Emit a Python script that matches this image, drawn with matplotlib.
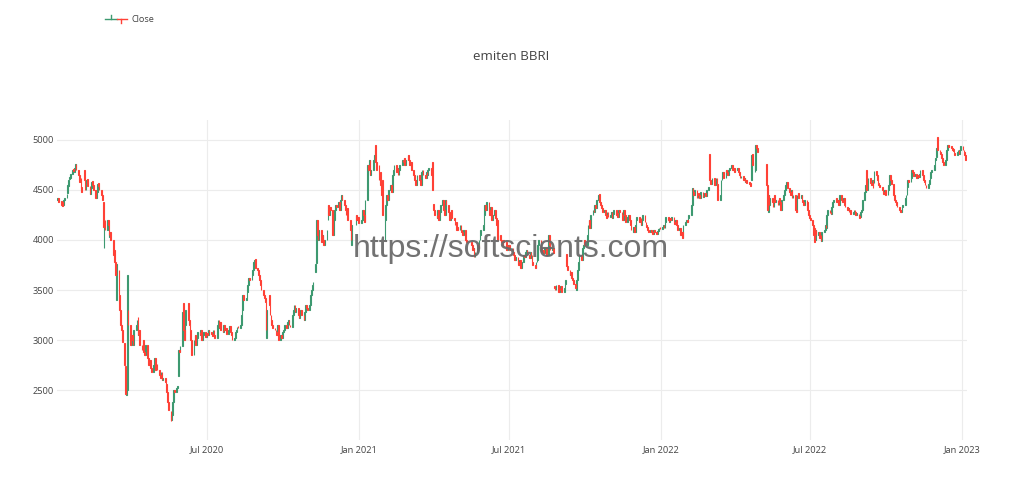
import numpy as np
import pandas as pd
import matplotlib
matplotlib.use("Agg")
import matplotlib.pyplot as plt
import matplotlib.dates as mdates
from matplotlib.lines import Line2D

# ---------------- data ----------------
chart_title = "emiten BBRI"
series_name = "Close"
watermark = "https://softscients.com"

holidays = ["2020-01-01", "2020-12-24", "2020-12-25", "2021-01-01", "2021-05-12",
            "2021-05-13", "2021-05-14", "2022-04-29", "2022-05-02", "2022-05-03",
            "2022-05-04", "2022-05-05", "2022-05-06"]

close_2020 = [
    [4410, 4380, 4350, 4370, 4340, 4400, 4420, 4460, 4550, 4600, 4620, 4660, 4700, 4690, 4720, 4760, 4700, 4650, 4580, 4620, 4520, 4480],
    [4600, 4500, 4560, 4600, 4540, 4460, 4520, 4580, 4550, 4500, 4420, 4480, 4560, 4540, 4500, 4450, 4400, 4130, 4200, 4100],
    [4200, 4150, 4050, 4080, 4000, 3850, 3900, 3780, 3650, 3760, 3450, 3300, 3150, 3100, 2980, 2750, 2460, 2520, 3650, 3150, 2950, 3050],
    [3000, 2950, 3100, 3150, 3200, 3050, 3100, 2950, 2900, 3000, 2880, 2850, 2950, 2820, 2750, 2800, 2720, 2680, 2750, 2820, 2700, 2760],
    [2700, 2650, 2620, 2680, 2600, 2620, 2580, 2560, 2480, 2380, 2300, 2190, 2250, 2380, 2500, 2480, 2520, 2540, 2900, 2880, 2940],
    [3280, 3100, 3000, 3150, 3300, 3200, 3150, 3100, 3000, 2850, 3000, 3050, 2950, 3020, 3080, 3050, 3100, 3000, 3050, 3080, 3030, 3060],
    [3050, 3100, 3080, 3060, 3040, 3100, 3050, 3020, 3150, 3200, 3120, 3180, 3100, 3080, 3150, 3100, 3120, 3060, 3100, 3140, 3080, 3050, 3000],
    [3020, 3080, 3100, 3130, 3120, 3150, 3250, 3300, 3450, 3400, 3420, 3480, 3550, 3620, 3600, 3650, 3700, 3780, 3800, 3720, 3700],
    [3650, 3600, 3550, 3500, 3450, 3420, 3380, 3100, 3300, 3350, 3250, 3200, 3150, 3120, 3100, 3080, 3050, 3150, 3000, 3050, 3020, 3080],
    [3100, 3150, 3120, 3180, 3200, 3150, 3130, 3250, 3300, 3350, 3280, 3320, 3250, 3220, 3280, 3300, 3250, 3200, 3280, 3350, 3320, 3300],
    [3350, 3450, 3500, 3550, 3580, 3760, 4200, 4050, 4000, 4100, 3980, 4050, 4000, 3950, 4000, 4100, 4350, 4250, 4330, 4300, 4050],
    [4200, 4300, 4350, 4330, 4380, 4300, 4400, 4450, 4400, 4350, 4300, 4250, 4320, 4200, 4100, 4000, 4150, 4250, 4200, 4230, 4170],
]
open_2020 = [
    [4400, 4420, 4390, 4340, 4380, 4350, 4400, 4420, 4470, 4540, 4610, 4620, 4660, 4710, 4680, 4720, 4760, 4700, 4650, 4580, 4620, 4530],
    [4700, 4600, 4500, 4560, 4610, 4540, 4460, 4520, 4590, 4550, 4500, 4420, 4480, 4570, 4540, 4500, 4450, 4380, 3920, 4200],
    [4100, 4200, 4150, 4030, 4080, 4000, 3850, 3900, 3780, 3400, 3700, 3450, 3300, 3150, 3100, 2970, 2740, 2450, 2500, 3300, 3150, 2950],
    [3050, 3000, 2950, 3100, 3150, 3230, 3050, 3100, 2950, 2900, 3000, 2880, 2850, 2950, 2820, 2750, 2800, 2720, 2680, 2750, 2820, 2700],
    [2760, 2700, 2650, 2620, 2680, 2600, 2620, 2580, 2560, 2480, 2380, 2290, 2200, 2250, 2380, 2500, 2480, 2520, 2640, 2900, 2880],
    [2940, 3370, 3100, 3000, 3150, 3370, 3200, 3150, 3100, 3000, 2850, 3000, 3050, 2950, 3020, 3080, 3050, 3100, 3000, 3050, 3080, 3030],
    [3060, 3050, 3100, 3080, 3060, 3040, 3100, 3050, 3020, 3150, 3200, 3120, 3180, 3100, 3080, 3150, 3100, 3120, 3060, 3100, 3140, 3080, 3050],
    [3000, 3020, 3080, 3100, 3130, 3120, 3150, 3250, 3300, 3450, 3400, 3420, 3480, 3550, 3620, 3600, 3650, 3700, 3780, 3810, 3720],
    [3700, 3650, 3600, 3550, 3500, 3450, 3420, 3380, 3020, 3450, 3350, 3250, 3200, 3150, 3120, 3100, 3080, 3050, 3150, 3000, 3050, 3020],
    [3080, 3100, 3150, 3120, 3180, 3200, 3150, 3130, 3250, 3300, 3350, 3280, 3320, 3250, 3220, 3280, 3300, 3250, 3200, 3280, 3350, 3320],
    [3300, 3350, 3450, 3500, 3550, 3680, 3770, 4200, 4050, 4000, 4100, 3980, 4050, 4000, 3950, 4000, 4200, 4350, 4250, 4330, 4300],
    [4050, 4200, 4300, 4350, 4330, 4380, 4300, 4400, 4450, 4400, 4350, 4300, 4250, 4320, 4200, 4100, 3950, 4150, 4250, 4200, 4230],
]

close_2021 = [
    [4200, 4300, 4250, 4180, 4400, 4750, 4700, 4800, 4650, 4700, 4800, 4850, 4900, 4780, 4700, 4600, 4650, 4550, 4450, 4250],
    [4200, 4350, 4450, 4400, 4500, 4550, 4480, 4650, 4700, 4750, 4680, 4720, 4650, 4700, 4750, 4800, 4780, 4820, 4750, 4800],
    [4850, 4800, 4750, 4780, 4700, 4650, 4600, 4550, 4600, 4650, 4600, 4550, 4680, 4700, 4650, 4620, 4680, 4650, 4700, 4720, 4650, 4700, 4500],
    [4300, 4250, 4220, 4300, 4200, 4280, 4350, 4400, 4300, 4250, 4400, 4350, 4280, 4200, 4250, 4300, 4220, 4200, 4150, 4180, 4100, 4100],
    [4150, 4100, 4080, 4050, 4100, 4000, 3980, 3950, 3900, 3920, 3830, 3880, 3950, 3920, 4000, 4050, 4100, 4150],
    [4250, 4350, 4300, 4380, 4300, 4250, 4330, 4200, 4250, 4300, 4220, 4150, 4000, 4050, 4000, 3980, 3950, 4000, 3980, 3900, 3950, 3920],
    [3950, 3900, 3920, 3880, 3850, 3800, 3830, 3780, 3750, 3800, 3720, 3780, 3850, 3830, 3880, 3900, 3850, 3820, 3880, 3850, 3780, 3750],
    [3720, 3780, 3850, 3950, 4000, 3920, 3880, 3900, 3870, 3920, 3850, 3880, 4050, 3950, 3900, 3920, 3870, 3520, 3500, 3550, 3480, 3520],
    [3500, 3540, 3480, 3520, 3560, 3600, 3740, 3700, 3650, 3680, 3620, 3600, 3560, 3520, 3600, 3700, 3780, 3850, 3800, 3920, 3950, 4000],
    [3950, 4050, 4150, 4200, 4120, 4250, 4300, 4280, 4350, 4320, 4400, 4450, 4380, 4350, 4320, 4280, 4300, 4250, 4220, 4280, 4230],
    [4250, 4280, 4220, 4260, 4300, 4250, 4270, 4230, 4300, 4280, 4250, 4200, 4300, 4250, 4180, 4230, 4250, 4200, 4150, 4100, 4130, 4080],
    [4150, 4200, 4230, 4180, 4220, 4150, 4200, 4250, 4180, 4150, 4130, 4100, 4080, 4100, 4080, 4060, 4100, 4080, 4060, 4090, 4100, 4110, 4110],
]
open_2021 = [
    [4170, 4200, 4300, 4250, 4180, 4400, 4750, 4700, 4800, 4650, 4700, 4800, 4850, 4950, 4780, 4750, 4600, 4680, 4550, 4600],
    [4000, 4200, 4350, 4450, 4400, 4500, 4550, 4480, 4650, 4700, 4750, 4680, 4720, 4650, 4700, 4750, 4800, 4780, 4820, 4750],
    [4800, 4850, 4800, 4750, 4780, 4700, 4650, 4600, 4550, 4600, 4650, 4600, 4550, 4680, 4700, 4650, 4620, 4680, 4650, 4700, 4720, 4650, 4780],
    [4360, 4300, 4250, 4220, 4300, 4200, 4280, 4350, 4400, 4300, 4250, 4400, 4350, 4280, 4200, 4250, 4300, 4220, 4200, 4150, 4180, 4130],
    [4100, 4150, 4100, 4080, 4050, 4100, 4000, 3980, 3950, 3900, 3920, 3830, 3880, 3950, 3920, 4000, 4050, 4100],
    [4150, 4250, 4350, 4300, 4380, 4300, 4250, 4330, 4200, 4250, 4300, 4220, 4200, 4000, 4050, 4000, 3980, 3950, 4000, 3980, 3900, 3950],
    [3920, 3950, 3900, 3920, 3880, 3850, 3800, 3830, 3780, 3750, 3800, 3720, 3780, 3850, 3830, 3880, 3900, 3850, 3820, 3880, 3850, 3780],
    [3750, 3720, 3780, 3800, 3950, 4000, 3920, 3880, 3900, 3870, 3920, 3850, 3850, 4050, 3950, 3900, 3920, 3540, 3520, 3500, 3550, 3480],
    [3520, 3500, 3540, 3480, 3520, 3560, 3860, 3740, 3700, 3650, 3680, 3620, 3600, 3560, 3500, 3600, 3700, 3780, 3850, 3800, 3920, 3950],
    [4000, 3950, 4050, 4150, 4200, 4120, 4250, 4300, 4280, 4350, 4320, 4400, 4460, 4380, 4350, 4320, 4280, 4300, 4250, 4220, 4280],
    [4230, 4250, 4280, 4220, 4260, 4300, 4250, 4270, 4230, 4300, 4280, 4250, 4200, 4300, 4250, 4180, 4230, 4250, 4200, 4150, 4080, 4130],
    [4080, 4150, 4200, 4230, 4180, 4220, 4150, 4200, 4250, 4180, 4150, 4130, 4100, 4080, 4100, 4080, 4060, 4100, 4080, 4060, 4090, 4100, 4120],
]

close_2022 = [
    [4130, 4150, 4120, 4180, 4230, 4200, 4180, 4220, 4200, 4230, 4180, 4160, 4200, 4150, 4100, 4120, 4050, 4080, 4020, 4150, 4180],
    [4200, 4180, 4220, 4250, 4350, 4520, 4480, 4450, 4500, 4420, 4460, 4450, 4420, 4480, 4430, 4450, 4470, 4440, 4500, 4530],
    [4600, 4560, 4580, 4620, 4550, 4600, 4620, 4560, 4400, 4450, 4600, 4650, 4680, 4620, 4700, 4680, 4650, 4700, 4720, 4750, 4700, 4720, 4680],
    [4700, 4720, 4680, 4650, 4620, 4640, 4600, 4620, 4580, 4600, 4570, 4560, 4570, 4540, 4850, 4750, 4780, 4950, 4920, 4880],
    [4550, 4300, 4450, 4350, 4420, 4380, 4330, 4450, 4380, 4400, 4350, 4420, 4380, 4300, 4400, 4450, 4500],
    [4550, 4580, 4520, 4480, 4450, 4500, 4420, 4450, 4300, 4280, 4450, 4470, 4420, 4450, 4400, 4380, 4350, 4400, 4380, 4300, 4250, 4220],
    [4200, 4150, 4050, 3980, 4100, 4050, 4080, 4020, 4050, 3990, 4080, 4100, 4150, 4120, 4250, 4300, 4270, 4260, 4330, 4380, 4400],
    [4420, 4380, 4400, 4350, 4450, 4400, 4380, 4420, 4350, 4330, 4300, 4320, 4280, 4300, 4260, 4270, 4300, 4280, 4250, 4260, 4240, 4220, 4280],
    [4300, 4400, 4480, 4550, 4500, 4600, 4620, 4570, 4550, 4600, 4520, 4690, 4650, 4600, 4570, 4550, 4530, 4500, 4480, 4460, 4500, 4450],
    [4500, 4550, 4650, 4600, 4560, 4450, 4400, 4380, 4350, 4330, 4300, 4280, 4300, 4330, 4350, 4420, 4450, 4530, 4600, 4580, 4620],
    [4700, 4680, 4640, 4660, 4620, 4650, 4630, 4660, 4700, 4650, 4600, 4580, 4550, 4520, 4560, 4600, 4620, 4680, 4700, 4750, 4800, 4820],
    [4920, 4900, 4880, 4860, 4820, 4780, 4750, 4800, 4900, 4950, 4930, 4940, 4920, 4900, 4890, 4870, 4850, 4880, 4900, 4860, 4900, 4940],
]
open_2022 = [
    [4110, 4130, 4150, 4120, 4180, 4230, 4200, 4180, 4220, 4200, 4230, 4180, 4160, 4200, 4150, 4100, 4120, 4050, 4080, 4020, 4150],
    [4180, 4200, 4180, 4220, 4250, 4350, 4520, 4480, 4450, 4500, 4420, 4460, 4450, 4420, 4480, 4430, 4450, 4470, 4440, 4500],
    [4860, 4600, 4560, 4580, 4620, 4550, 4600, 4620, 4560, 4400, 4450, 4600, 4650, 4680, 4620, 4700, 4680, 4650, 4700, 4720, 4750, 4700, 4720],
    [4680, 4700, 4720, 4680, 4650, 4620, 4640, 4600, 4620, 4580, 4600, 4570, 4560, 4570, 4600, 4860, 4680, 4700, 4950, 4920],
    [4760, 4550, 4280, 4450, 4350, 4420, 4380, 4330, 4450, 4380, 4400, 4350, 4420, 4380, 4300, 4400, 4450],
    [4500, 4550, 4580, 4520, 4480, 4450, 4500, 4420, 4450, 4300, 4280, 4450, 4470, 4420, 4450, 4400, 4380, 4350, 4400, 4380, 4300, 4250],
    [4220, 4200, 4150, 4120, 4000, 4100, 4050, 4080, 4020, 4050, 3990, 4080, 4100, 4150, 4120, 4250, 4300, 4270, 4260, 4330, 4380],
    [4400, 4420, 4380, 4400, 4350, 4450, 4400, 4380, 4420, 4350, 4330, 4300, 4320, 4280, 4300, 4260, 4270, 4300, 4280, 4250, 4260, 4240, 4230],
    [4280, 4300, 4400, 4480, 4700, 4500, 4600, 4620, 4570, 4550, 4600, 4570, 4690, 4650, 4600, 4570, 4550, 4530, 4500, 4480, 4460, 4500],
    [4450, 4500, 4550, 4650, 4600, 4560, 4450, 4400, 4380, 4350, 4330, 4300, 4280, 4300, 4330, 4350, 4420, 4450, 4530, 4600, 4580],
    [4620, 4700, 4680, 4640, 4660, 4620, 4650, 4630, 4660, 4700, 4650, 4600, 4580, 4550, 4520, 4560, 4600, 4620, 4680, 4700, 4750, 4800],
    [4830, 5030, 4900, 4880, 4860, 4820, 4780, 4750, 4800, 4900, 4950, 4930, 4940, 4920, 4900, 4890, 4870, 4850, 4880, 4900, 4860, 4900],
]

close_2023 = [[4900, 4880, 4850, 4800]]
open_2023 = [[4940, 4900, 4880, 4850]]

yticks = [2500, 3000, 3500, 4000, 4500, 5000]
xtick_dates = ["2020-07-01", "2021-01-01", "2021-07-01", "2022-01-01", "2022-07-01", "2023-01-01"]
xtick_labels = ["Jul 2020", "Jan 2021", "Jul 2021", "Jan 2022", "Jul 2022", "Jan 2023"]

# ---------------- assemble dated records ----------------
hol = pd.to_datetime(holidays)
dates, opens, closes = [], [], []
for year, cyear, oyear in [(2020, close_2020, open_2020), (2021, close_2021, open_2021),
                           (2022, close_2022, open_2022), (2023, close_2023, open_2023)]:
    for m, (cs, os_) in enumerate(zip(cyear, oyear), start=1):
        start = pd.Timestamp(year=year, month=m, day=1)
        days = pd.bdate_range(start, start + pd.offsets.MonthEnd(0))
        days = days[~days.isin(hol)]
        n = min(len(days), len(cs), len(os_))
        dates.extend(days[:n])
        opens.extend(os_[:n])
        closes.extend(cs[:n])

x = mdates.date2num(pd.DatetimeIndex(dates).to_pydatetime())
o = np.array(opens, dtype=float)
c = np.array(closes, dtype=float)

# ---------------- figure ----------------
W, H = 1024, 498
fig = plt.figure(figsize=(W / 100, H / 100), dpi=100)
fig.patch.set_facecolor("white")
ax = fig.add_axes([57 / W, 1 - 440 / H, 910 / W, 320 / H])
ax.set_facecolor("white")

INC, DEC = "#3D9970", "#FF4136"
inc = c > o
bottom = np.minimum(o, c)
height = np.maximum(np.abs(c - o), 20)
ax.bar(x[inc], height[inc], bottom=bottom[inc], width=0.9, color=INC,
       edgecolor=INC, linewidth=0.8, zorder=3)
ax.bar(x[~inc], height[~inc], bottom=bottom[~inc], width=0.9, color=DEC,
       edgecolor=DEC, linewidth=0.8, zorder=3)

ax.set_xlim(mdates.date2num(pd.Timestamp("2020-01-01").to_pydatetime()),
            mdates.date2num(pd.Timestamp("2023-01-06 18:00").to_pydatetime()))
ax.set_ylim(2005, 5196)

ax.set_yticks(yticks)
ax.set_yticklabels([str(v) for v in yticks])
ax.set_xticks(mdates.date2num(pd.to_datetime(xtick_dates).to_pydatetime()))
ax.set_xticklabels(xtick_labels)

for s in ax.spines.values():
    s.set_visible(False)
ax.tick_params(axis="both", length=0, labelsize=6.7, labelcolor="#444444")
ax.tick_params(axis="y", pad=2)
ax.tick_params(axis="x", pad=3.5)
for lab in ax.get_xticklabels() + ax.get_yticklabels():
    lab.set_family("Open Sans")
ax.grid(True, color="#ececec", linewidth=0.8, zorder=0)
ax.set_axisbelow(True)

# title
fig.text(511 / W, 1 - 56 / H, chart_title, ha="center", va="center",
         fontsize=9.6, family="Open Sans", color="#444444")

# legend
fig.add_artist(Line2D([105 / W, 117 / W], [1 - 19 / H, 1 - 19 / H], color=INC, lw=1.0,
                      transform=fig.transFigure))
fig.add_artist(Line2D([111 / W, 111 / W], [1 - 19 / H, 1 - 15 / H], color=INC, lw=1.0,
                      transform=fig.transFigure))
fig.add_artist(Line2D([117 / W, 127 / W], [1 - 19 / H, 1 - 19 / H], color=DEC, lw=1.0,
                      transform=fig.transFigure))
fig.add_artist(Line2D([121 / W, 121 / W], [1 - 19 / H, 1 - 23 / H], color=DEC, lw=1.0,
                      transform=fig.transFigure))
fig.text(131 / W, 1 - 19 / H, series_name, ha="left", va="center",
         fontsize=6.6, family="Open Sans", color="#444444")

# watermark
fig.text(511 / W, 1 - 256.5 / H, watermark, ha="center", va="baseline",
         fontsize=23, family="Liberation Sans", color="#6a6a6a", alpha=0.95, zorder=10)

fig.savefig("out.png", dpi=100, facecolor="white")
